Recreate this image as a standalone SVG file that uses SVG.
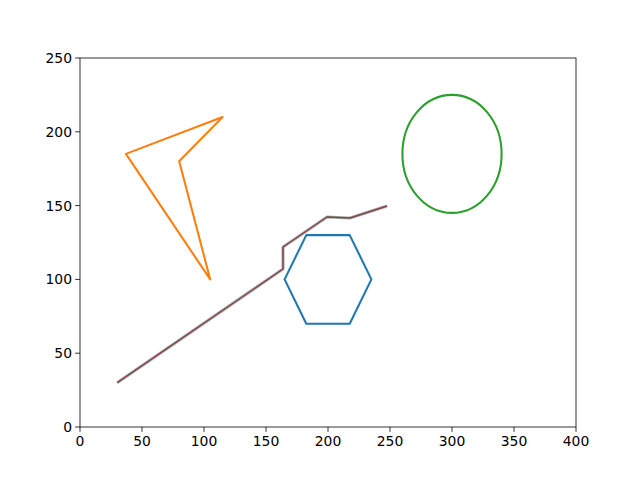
<svg xmlns="http://www.w3.org/2000/svg" width="640" height="480" viewBox="0 0 640 480">
<style>
.ax{fill:none;stroke:#000;stroke-width:0.8}
.tk{stroke:#000;stroke-width:0.8}
.lbl{font-family:"DejaVu Sans",sans-serif;font-size:13.9px;fill:#000}
.shape{fill:none;stroke-width:2.08;stroke-linejoin:round;stroke-linecap:square}
</style>
<rect width="640" height="480" fill="#fff"/>
<g id="axes">
<rect class="ax" x="80" y="58" width="496" height="369"/>
<g class="tk">
<line x1="80" y1="427" x2="80" y2="431.9"/><line x1="142" y1="427" x2="142" y2="431.9"/><line x1="204" y1="427" x2="204" y2="431.9"/><line x1="266" y1="427" x2="266" y2="431.9"/><line x1="328" y1="427" x2="328" y2="431.9"/><line x1="390" y1="427" x2="390" y2="431.9"/><line x1="452" y1="427" x2="452" y2="431.9"/><line x1="514" y1="427" x2="514" y2="431.9"/><line x1="576" y1="427" x2="576" y2="431.9"/>
<line x1="75.1" y1="427" x2="80" y2="427"/><line x1="75.1" y1="353.2" x2="80" y2="353.2"/><line x1="75.1" y1="279.4" x2="80" y2="279.4"/><line x1="75.1" y1="205.6" x2="80" y2="205.6"/><line x1="75.1" y1="131.8" x2="80" y2="131.8"/><line x1="75.1" y1="58" x2="80" y2="58"/>
</g>
<g class="lbl" text-anchor="middle">
<text x="80" y="446">0</text><text x="142" y="446">50</text><text x="204" y="446">100</text><text x="266" y="446">150</text><text x="328" y="446">200</text><text x="390" y="446">250</text><text x="452" y="446">300</text><text x="514" y="446">350</text><text x="576" y="446">400</text>
</g>
<g class="lbl" text-anchor="end">
<text x="72" y="432">0</text><text x="72" y="358.2">50</text><text x="72" y="284.4">100</text><text x="72" y="210.6">150</text><text x="72" y="136.8">200</text><text x="72" y="63">250</text>
</g>
</g>
<g id="hexagon"><polygon class="shape" stroke="#1f77b4" points="371.4,279.4 349.7,235.1 306.3,235.1 284.6,279.4 306.3,323.7 349.7,323.7"/></g>
<g id="polygon"><polygon class="shape" stroke="#ff7f0e" points="222.6,117 125.9,153.9 210.2,279.4 179.2,161.3"/></g>
<g id="circle"><ellipse class="shape" stroke="#2ca02c" cx="452" cy="153.9" rx="49.6" ry="59"/></g>
<g id="connectors">
<polyline fill="none" stroke="#000" stroke-opacity="0.3" stroke-width="3.2" stroke-linejoin="round" points="117.2,382.7 283,269 283,247 327,217 350,218 387,206"/>
<polyline fill="none" stroke="#000" stroke-opacity="0.5" stroke-width="1.4" stroke-linejoin="round" points="117.2,382.7 283,269 283,247 327,217 350,218 387,206"/>
<polyline fill="none" stroke="#d62728" stroke-width="0.8" stroke-dasharray="2,1.5" points="117.2,382.7 283,269 283,247 327,217 350,218 387,206"/>
</g>
</svg>
